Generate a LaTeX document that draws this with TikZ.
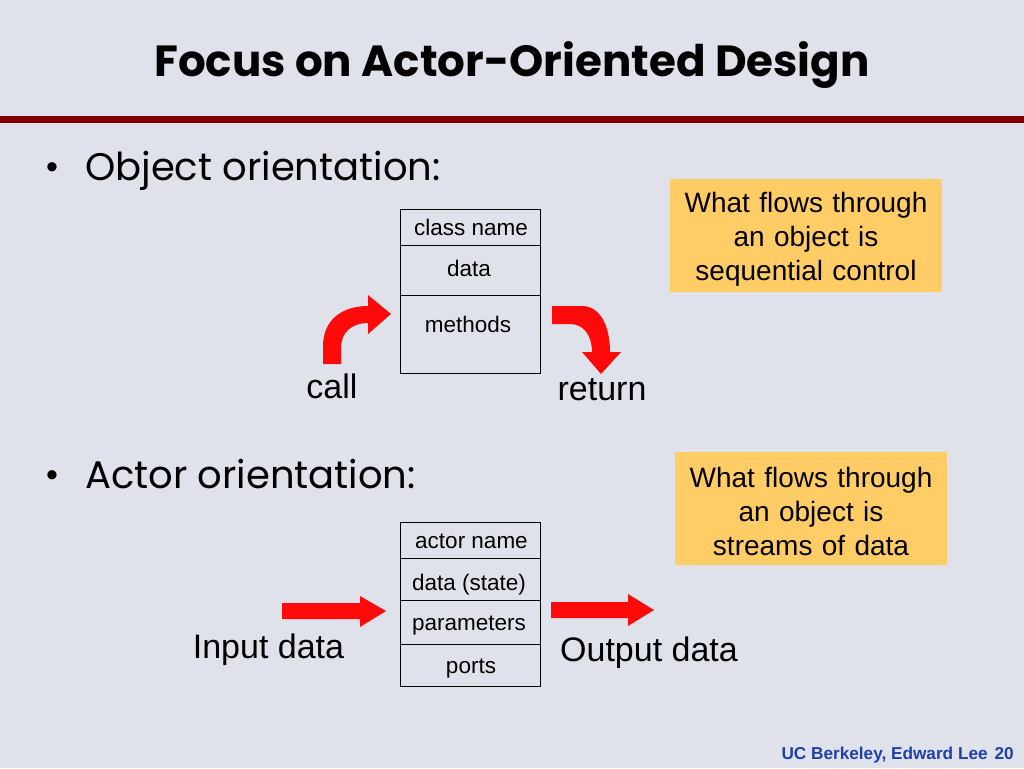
\documentclass[tikz,border=0pt]{standalone}
\usepackage{fontspec}
\setmainfont{Liberation Sans}
\newfontfamily\comic{Poppins}
\definecolor{slidebg}{HTML}{DFE2EA}
\definecolor{rulered}{HTML}{800000}
\definecolor{notefill}{HTML}{FFCC66}
\definecolor{footblue}{HTML}{2040A8}
\definecolor{arrowred}{HTML}{FF0A0A}
\newcommand{\noteshift}{\rule{0pt}{27pt}}
\tikzset{
  cell/.style={draw=black,line width=1pt,anchor=north west,inner sep=0pt,outer sep=0pt},
  celltext/.style={font=\fontsize{22.5}{27}\selectfont,anchor=base,inner sep=0pt},
  bigtext/.style={font=\fontsize{34}{40}\selectfont,anchor=base,inner sep=0pt},
  note/.style={fill=notefill,inner sep=0pt,outer sep=0pt,align=center,text width=272pt,minimum height=113pt,font=\fontsize{28}{34}\selectfont},
  heading/.style={font=\comic\fontsize{38.5}{46}\selectfont,anchor=base west,inner sep=0pt},
  redarrow/.style={fill=arrowred,draw=none}
}
\begin{document}
\begin{tikzpicture}[x=1pt,y=-1pt]
\useasboundingbox (0,0) rectangle (1024,768);
\fill[slidebg] (0,0) rectangle (1024,768);
\fill[rulered] (0,116) rectangle (1024,123);
\node[anchor=base,inner sep=0pt] (title) at (512,77) {\comic\bfseries\fontsize{43.6}{52}\selectfont Focus on Actor-Oriented Design};
\node[inner sep=0pt] (b1) at (52,171) {\fontsize{34}{40}\selectfont •};
\node[heading] (h1) at (85,180) {Object orientation:};
\node[inner sep=0pt] (b2) at (52,479) {\fontsize{34}{40}\selectfont •};
\node[heading] (h2) at (85,488) {Actor orientation:};
% class box
\node[cell,minimum width=140pt,minimum height=36pt] (c1) at (400.7,209) {};
\node[cell,minimum width=140pt,minimum height=50pt] (c2) at (400.7,245) {};
\node[cell,minimum width=140pt,minimum height=78pt] (c3) at (400.7,295) {};
\node[celltext] (t1) at (471,235) {class name};
\node[celltext] (t2) at (469,276) {data};
\node[celltext] (t3) at (468,332) {methods};
% actor box
\node[cell,minimum width=140.5pt,minimum height=36pt] (a1) at (400,522) {};
\node[cell,minimum width=140.5pt,minimum height=42pt] (a2) at (400,558) {};
\node[cell,minimum width=140.5pt,minimum height=44pt] (a3) at (400,600) {};
\node[cell,minimum width=140.5pt,minimum height=42pt] (a4) at (400,644) {};
\node[celltext] (s1) at (471.5,548) {actor name};
\node[celltext] (s2) at (469,590) {data (state)};
\node[celltext] (s3) at (469,630) {parameters};
\node[celltext] (s4) at (471,673) {ports};
% notes
\node[note] (n1) at (806,235.5) {\noteshift What flows through\\an object is\\sequential control};
\node[note] (n2) at (811,508.5) {\noteshift What flows through\\an object is\\streams of data};
% arrows
\fill[redarrow] (323,364) -- (323,346) .. controls (323,320) and (342,306) .. (368,306) -- (368,295) -- (391,314) -- (368,334) -- (368,323) .. controls (352,323) and (341,332) .. (341,348) -- (341,364) -- cycle;
\fill[redarrow] (552,306) -- (582,306) .. controls (600,306) and (610,326) .. (610,352) -- (621,352) -- (601,374) -- (582,352) -- (592,352) .. controls (592,336) and (584,324) .. (570,324) -- (552,324) -- cycle;
\fill[redarrow] (282,603) -- (360,603) -- (360,596) -- (386,611) -- (360,627) -- (360,619) -- (282,619) -- cycle;
\fill[redarrow] (551,602) -- (628,602) -- (628,594) -- (654,610) -- (628,626) -- (628,618) -- (551,618) -- cycle;
% labels
\node[bigtext] (call) at (332,398) {call};
\node[bigtext] (ret) at (602,400) {return};
\node[bigtext] (inp) at (268.5,658) {Input data};
\node[bigtext] (out) at (649,661) {Output data};
\node[anchor=base east,inner sep=0pt,text=footblue,font=\bfseries\fontsize{17.2}{20}\selectfont] (foot) at (1014,759) {UC Berkeley, Edward Lee\hspace{7pt}20};
\end{tikzpicture}
\end{document}
